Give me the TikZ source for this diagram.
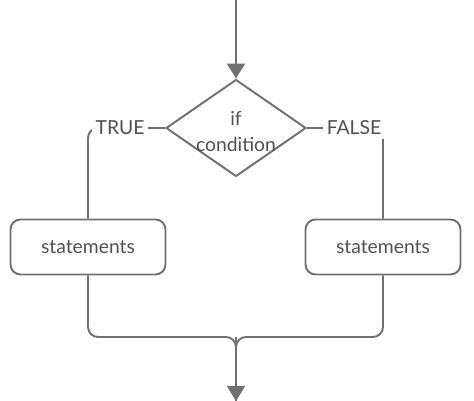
\documentclass[tikz,border=0pt]{standalone}
\usepackage{fontspec}
\setmainfont{Lato}
\usetikzlibrary{shapes.geometric,arrows.meta}
\definecolor{flowgray}{RGB}{112,112,112}
\definecolor{textgray}{RGB}{80,80,80}

\begin{document}
\begin{tikzpicture}[x=0.02cm, y=-0.02cm,
    font=\fontsize{11}{14.5}\selectfont, text=textgray,
    flow/.style={draw=flowgray, line width=1.1pt},
    tip/.style={-{Triangle[width=0.36cm, length=0.3cm]}},
    decision/.style={diamond, draw=flowgray, line width=1.1pt, inner sep=0pt,
      minimum width=2.8cm, minimum height=1.94cm},
    stmt/.style={draw=flowgray, line width=1.1pt, rounded corners=0.2cm,
      minimum width=3.1cm, minimum height=1.1cm},
    branch/.style={fill=white, inner sep=2pt}]
  \useasboundingbox (0,0) rectangle (474,401);
  % decision and the two branches
  \node[decision, label={[align=center, yshift=-2pt]center:if\\condition}]
    (cond) at (236,128) {};
  \node[stmt] (lbox) at (88,247)  {statements};
  \node[stmt] (rbox) at (383,247) {statements};
  \coordinate (entry) at (236,0);
  \coordinate (merge) at (236,337);
  \coordinate (exit)  at (236,401);
  % incoming arrow
  \draw[flow, tip] (entry) -- (cond.north);
  % TRUE / FALSE connectors
  \draw[flow, rounded corners=0.2cm] (cond.west) -| (lbox.north);
  \draw[flow, rounded corners=0.2cm] (cond.east) -| (rbox.north);
  \node[branch] (true)  at (120,128) {TRUE};
  \node[branch] (false) at (354,128) {FALSE};
  % join below the boxes
  \draw[flow, rounded corners=0.2cm] (lbox.south) |- (merge) -- (exit);
  \draw[flow, rounded corners=0.2cm] (rbox.south) |- (merge) -- (exit);
  \draw[flow, tip] (merge) -- (exit);
\end{tikzpicture}
\end{document}
